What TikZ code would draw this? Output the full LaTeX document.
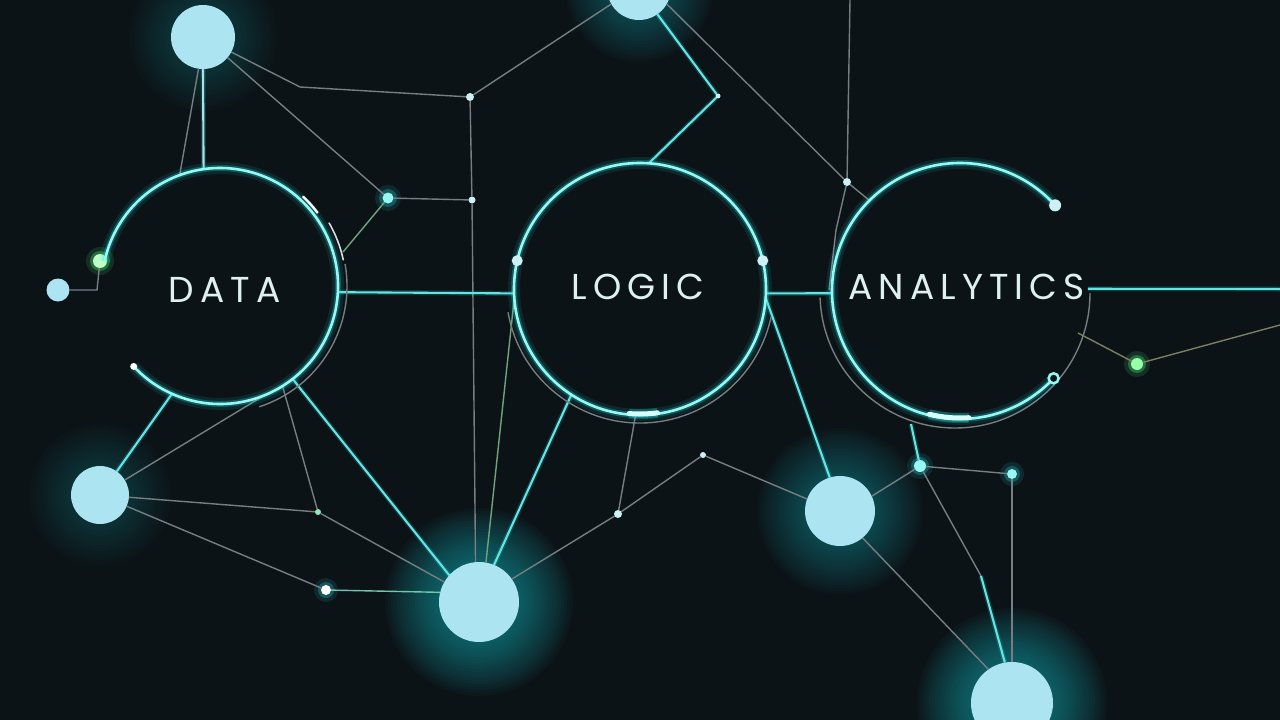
\documentclass[tikz,border=0pt]{standalone}
\usepackage{fontspec}
\setmainfont{Poppins}
\usetikzlibrary{calc}
\pgfdeclarelayer{bglayer}
\pgfsetlayers{bglayer,main}
\definecolor{bgc}{RGB}{12,19,23}
\definecolor{nodefill}{RGB}{172,228,242}
\definecolor{glowc}{RGB}{40,200,210}
\definecolor{ringcore}{RGB}{150,248,242}
\definecolor{ringglow}{RGB}{30,220,220}
\definecolor{greyline}{RGB}{118,126,130}
\definecolor{cyanline}{RGB}{100,228,228}
\definecolor{greenline}{RGB}{110,165,125}
\definecolor{greenc}{RGB}{80,255,130}
\definecolor{txt}{RGB}{222,240,240}
\definecolor{oliveline}{RGB}{125,125,98}
\definecolor{dotc}{RGB}{205,240,245}
\definecolor{barc}{RGB}{215,255,250}
\definecolor{gdotc}{RGB}{190,255,200}
\definecolor{j8c}{RGB}{150,230,190}
\definecolor{j14c}{RGB}{150,255,170}
\definecolor{paleline}{RGB}{170,225,228}
\definecolor{tealline}{RGB}{110,200,170}
\newcommand\ringarc[4]{%
  \draw[draw=ringglow, line width=12pt, opacity=.10] ($(#1.center)+(#2:#4)$) arc[start angle=#2,end angle=#3,radius=#4];
  \draw[draw=ringglow, line width=6pt, opacity=.28] ($(#1.center)+(#2:#4)$) arc[start angle=#2,end angle=#3,radius=#4];
  \draw[draw=ringcore, line width=2.6pt] ($(#1.center)+(#2:#4)$) arc[start angle=#2,end angle=#3,radius=#4];}
\newcommand\halo[4]{%
  \foreach \k in {1,...,#4} {\fill[glowc, opacity=#3] (#1.center) circle[radius=#2+\k*3pt];}}
\begin{document}
\begin{tikzpicture}[x=1pt,y=-1pt,
  bignode/.style={circle, fill=nodefill, inner sep=0pt, outer sep=0pt},
  ring/.style={circle, inner sep=0pt, outer sep=0pt},
  lbl/.style={text=txt, inner sep=0pt, font=\fontsize{36}{36}\selectfont\addfontfeatures{LetterSpace=17}},
  sdot/.style={circle, fill=dotc, inner sep=0pt, outer sep=0pt},
  gline/.style={draw=greyline, line width=1.4pt},
  grline/.style={draw=greenline, line width=1.4pt},
  oline/.style={draw=oliveline, line width=1.4pt},
  cline/.style={draw=cyanline, line width=2.1pt, preaction={draw=ringglow, line width=5pt, opacity=.18}},
  garc/.style={draw=greyline, line width=1.4pt}]
\useasboundingbox (0,0) rectangle (1280,720);
\clip (0,0) rectangle (1280,720);
\begin{pgfonlayer}{bglayer}
\fill[bgc] (0,0) rectangle (1280,720);
\end{pgfonlayer}
% big nodes
\node[bignode, minimum size=64pt] (A) at (203,37) {};
\node[bignode, minimum size=64pt] (B) at (639,-12) {};
\node[bignode, minimum size=58pt] (C) at (100,495) {};
\node[bignode, minimum size=80pt] (D) at (479,602) {};
\node[bignode, minimum size=70pt] (E) at (840,511) {};
\node[bignode, minimum size=82pt] (F) at (1012,703) {};
\node[bignode, minimum size=23pt] (L) at (58,290) {};
% rings
\node[ring, minimum size=236pt] (data) at (220,286) {};
\node[ring, minimum size=252pt] (logic) at (640,289) {};
\node[ring, minimum size=256pt] (anal) at (960,291) {};
% junction dots
\node[sdot, minimum size=8pt] (j1) at (470,97) {};
\node[sdot, minimum size=7pt] (j2) at (472,200) {};
\node[sdot, minimum size=11pt, fill=ringcore] (j3) at (388,198) {};
\node[sdot, minimum size=5pt] (j4) at (718,96) {};
\node[sdot, minimum size=8pt] (j5) at (847,182) {};
\node[sdot, minimum size=14pt, fill=gdotc] (gd) at (100,261) {};
\node[sdot, minimum size=6pt, fill=j8c] (j8) at (318,512) {};
\node[sdot, minimum size=10pt, fill=white] (j9) at (326,590) {};
\node[sdot, minimum size=8pt] (j10) at (618,514) {};
\node[sdot, minimum size=6pt] (j11) at (703,455) {};
\node[sdot, minimum size=12pt, fill=ringcore] (j12) at (920,466) {};
\node[sdot, minimum size=10pt, fill=ringcore] (j13) at (1012,474) {};
\node[sdot, minimum size=12pt, fill=j14c] (j14) at (1137,364) {};
% free coordinates
\coordinate (b1) at (300,87);
\coordinate (dj3) at (343,252);
\coordinate (lb) at (97,290);
\coordinate (top5) at (850,0);
\coordinate (b5a) at (836,230);
\coordinate (b5b) at (829,290);
\coordinate (ab) at (911,424);
\coordinate (bend12) at (981,576);
\coordinate (a14) at (1078,333);
\coordinate (r14) at (1280,325);
\coordinate (rr) at (1280,289);
% halos
\begin{pgfonlayer}{bglayer}
\halo{A}{32pt}{.015}{14}
\halo{B}{32pt}{.022}{14}
\halo{C}{29pt}{.017}{14}
\halo{D}{40pt}{.03}{18}
\halo{E}{35pt}{.025}{16}
\halo{F}{41pt}{.03}{18}
\foreach \n/\r in {j3/6pt, j12/6pt, j13/5pt, j9/5pt} {\fill[glowc, opacity=.3] (\n) circle[radius=\r+3pt]; \fill[glowc, opacity=.12] (\n) circle[radius=\r+7pt];}
\foreach \n/\r in {gd/7pt, j14/6pt} {\fill[greenc, opacity=.3] (\n) circle[radius=\r+3pt]; \fill[greenc, opacity=.12] (\n) circle[radius=\r+7pt];}
\end{pgfonlayer}
% grey connectors
\draw[gline] (A.-28) -- (b1) -- (j1);
\draw[gline] (A.-40) -- (j3);
\draw[gline] (A.262) -- (data.110);
\draw[gline] (j1) -- (B.210);
\draw[gline] (j1) -- (j2) -- (D.95);
\draw[gline] (j3) -- (j2);
\draw[grline] (j3) -- (dj3);
\draw[gline] (B.-30) -- (j5) -- (anal.135);
\draw[gline] (top5) -- (j5) -- (b5a) -- (b5b);
\draw[gline] (L) -- (lb) -- (gd);
\draw[gline] (C) -- (data.-68);
\draw[gline] (C) -- (j8);
\draw[gline] (C) -- (j9);
\draw[gline] (data.-58) -- (j8) -- (D.150);
\draw[gline] (D.35) -- (j10) -- (logic.-92);
\draw[gline] (j10) -- (j11) -- (E.160);
\draw[gline] (E.25) -- (j12) -- (j13);
\draw[gline] (j12) -- (bend12);
\draw[cline] (bend12) -- (F.100);
\draw[gline] (j13) -- (F.90);
\draw[gline] (E.-50) -- (F.125);
\draw[oline] (a14) -- (j14) -- (r14);
% cyan connectors
\draw[cline, draw=paleline] (A.south) -- (data.98);
\draw[cline] (data.-3) -- (logic.182);
\draw[cline] (logic.-2) -- (anal.181);
\draw[cline] (anal.1) -- (rr);
\draw[cline] (B.-55) -- (j4) -- (logic.86);
\draw[cline] (C) -- (data.-114);
\draw[cline] (data.-52) -- (D.138);
\draw[cline] (D.68) -- (logic.-123);
\draw[cline] (logic.-4) -- (E.107);
\draw[cline] (ab) -- (j12);
\draw[grline] (logic.184) -- (D.80);
\draw[grline, draw=tealline] (j9) -- (D.166);
% outer grey arcs
\draw[garc] ($(data.center)+(10:127pt)$) arc[start angle=10,end angle=-72,radius=127pt];
\draw[garc] ($(logic.center)+(190:134pt)$) arc[start angle=190,end angle=348,radius=134pt];
\draw[garc] ($(anal.center)+(-5,2)+(182:135pt)$) arc[start angle=182,end angle=360,radius=135pt];
% rings
\ringarc{data}{168}{-137}{118pt}
\ringarc{logic}{0}{360}{126pt}
\ringarc{anal}{42}{317}{128pt}
% glints and bars
\draw[white, line width=2.4pt, line cap=round] ($(data.center)+(47:122pt)$) arc[start angle=47,end angle=37,radius=122pt];
\draw[white, line width=1.6pt, opacity=.85, line cap=round] ($(data.center)+(30:126pt)$) arc[start angle=30,end angle=12,radius=126pt];
\draw[ringglow, line width=10pt, opacity=.3] ($(logic.center)+(-95:125pt)$) arc[start angle=-95,end angle=-82,radius=125pt];
\draw[barc, line width=5pt, line cap=round] ($(logic.center)+(-95:125pt)$) arc[start angle=-95,end angle=-82,radius=125pt];
\draw[ringglow, line width=10pt, opacity=.3] ($(anal.center)+(-104:127pt)$) arc[start angle=-104,end angle=-86,radius=127pt];
\draw[barc, line width=5pt, line cap=round] ($(anal.center)+(-104:127pt)$) arc[start angle=-104,end angle=-86,radius=127pt];
% ring dots
\node[sdot, minimum size=11pt] (ld1) at (logic.167) {};
\node[sdot, minimum size=11pt] (ld2) at (logic.13.5) {};
\node[sdot, minimum size=12pt] (ae) at (anal.42) {};
\node[circle, draw=ringcore, line width=2.5pt, fill=bgc, minimum size=10pt, inner sep=0pt] (ah) at (anal.317) {};
\node[sdot, minimum size=7pt, fill=white] (de) at (data.-137) {};
% labels
\node[lbl] (tdata) at (224.5,290) {DATA};
\node[lbl] (tlogic) at (638,287) {LOGIC};
\node[lbl] (tanal) at (966.5,287) {ANALYTICS};
\end{tikzpicture}
\end{document}
